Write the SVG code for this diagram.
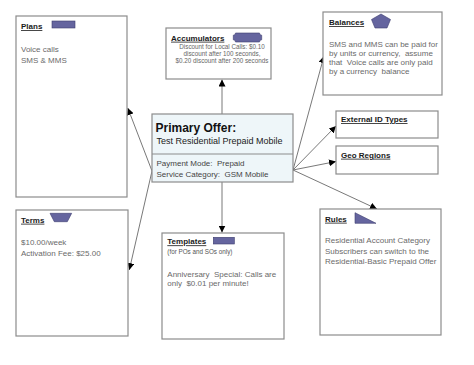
<svg xmlns="http://www.w3.org/2000/svg" width="474" height="365" viewBox="0 0 474 365">
<style>
.box{fill:#fff;stroke:#8c8c8c;stroke-width:1.2}
.ttl{font-family:"Liberation Sans",Arial,sans-serif;font-size:8px;font-weight:bold;fill:#1a1a1a;text-decoration:underline}
.body{font-family:"Liberation Sans",Arial,sans-serif;font-size:8px;fill:#6a6a6a;white-space:pre}
.small{font-family:"Liberation Sans",Arial,sans-serif;font-size:6.3px;fill:#555;white-space:pre}
.icon{fill:#65659f;stroke:#3d3d6e;stroke-width:0.6}
.conn{stroke:#555;stroke-width:0.8;fill:none;marker-end:url(#ah)}
</style>
<defs>
<marker id="ah" viewBox="0 0 10 10" refX="10" refY="5" markerWidth="7" markerHeight="7" markerUnits="userSpaceOnUse" orient="auto">
<path d="M0,0 L10,5 L0,10 z" fill="#000"/>
</marker>
</defs>
<rect width="474" height="365" fill="#fff"/>
<g id="connectors">
<line class="conn" x1="152" y1="171" x2="127.8" y2="108"/>
<line class="conn" x1="152" y1="171" x2="129.3" y2="270"/>
<line class="conn" x1="222" y1="114" x2="222" y2="79.5"/>
<line class="conn" x1="222" y1="182" x2="222" y2="232.5"/>
<line class="conn" x1="293" y1="170" x2="324" y2="56"/>
<line class="conn" x1="293" y1="170" x2="336" y2="126"/>
<line class="conn" x1="293" y1="170" x2="336" y2="161.5"/>
<line class="conn" x1="293" y1="170" x2="377" y2="209"/>
</g>
<g id="plans">
<rect class="box" x="16" y="16" width="111" height="181"/>
<text class="ttl" x="21" y="29">Plans</text>
<rect class="icon" x="52" y="21" width="23" height="7"/>
<text class="body" x="21" y="52">Voice calls</text>
<text class="body" x="21" y="63">SMS &amp; MMS</text>
</g>
<g id="accumulators">
<rect class="box" x="166" y="28" width="105" height="51"/>
<text class="ttl" x="171" y="40.7">Accumulators</text>
<path class="icon" d="M235.5,33 H259.5 A2.2,2.2 0 0 0 261.7,35.2 V39.8 A2.2,2.2 0 0 0 259.5,42 H235.5 A2.2,2.2 0 0 0 233.3,39.8 V35.2 A2.2,2.2 0 0 0 235.5,33 Z"/>
<text class="small" x="222" y="49" text-anchor="middle" style="fill:#666">Discount for Local Calls: $0.10</text>
<text class="small" x="222" y="56" text-anchor="middle" style="fill:#666">discount after 100 seconds,</text>
<text class="small" x="222" y="63" text-anchor="middle" style="fill:#666">$0.20 discount after 200 seconds</text>
</g>
<g id="balances">
<rect class="box" x="323" y="12" width="119" height="83"/>
<text class="ttl" x="329" y="25">Balances</text>
<polygon class="icon" points="381,14 390.5,19.5 387,28 375,28 371.5,19.5"/>
<text class="body" x="329" y="46.7">SMS and MMS can be paid for</text>
<text class="body" x="329" y="55.7">by units or currency,  assume</text>
<text class="body" x="329" y="65">that  Voice calls are only paid</text>
<text class="body" x="329" y="74">by a currency  balance</text>
</g>
<g id="external-id-types">
<rect class="box" x="336" y="111" width="102" height="27"/>
<text class="ttl" x="341" y="122">External ID  Types</text>
</g>
<g id="geo-regions">
<rect class="box" x="336" y="146" width="102" height="28"/>
<text class="ttl" x="341" y="157.7">Geo Regions</text>
</g>
<g id="primary-offer">
<rect x="152" y="114" width="141" height="68" fill="#eef6f9" stroke="#8c8c8c" stroke-width="1.2"/>
<line x1="152" y1="154" x2="293" y2="154" stroke="#8c8c8c" stroke-width="1"/>
<text x="155.5" y="132" font-family="Liberation Sans, Arial, sans-serif" font-size="12" font-weight="bold" fill="#111">Primary Offer:</text>
<text x="156.5" y="144" font-family="Liberation Sans, Arial, sans-serif" font-size="9" fill="#222">Test Residential Prepaid Mobile</text>
<text x="156.5" y="166" font-family="Liberation Sans, Arial, sans-serif" font-size="8" fill="#444" style="white-space:pre">Payment Mode:  Prepaid</text>
<text x="156.5" y="177" font-family="Liberation Sans, Arial, sans-serif" font-size="8" fill="#444" style="white-space:pre">Service Category:  GSM Mobile</text>
</g>
<g id="terms">
<rect class="box" x="16" y="210" width="112" height="126"/>
<text class="ttl" x="21" y="222.7">Terms</text>
<polygon class="icon" points="50,213.3 71.7,213.3 67.3,221.7 54.3,221.7"/>
<text class="body" x="21" y="245">$10.00/week</text>
<text class="body" x="21" y="255.7">Activation Fee: $25.00</text>
</g>
<g id="templates">
<rect class="box" x="162" y="233" width="122" height="106"/>
<text class="ttl" x="167.3" y="244.3">Templates</text>
<rect class="icon" x="213.3" y="237.3" width="21" height="6.7"/>
<text class="small" x="167.3" y="254">(for POs and SOs only)</text>
<text class="body" x="167.3" y="276.7">Anniversary  Special: Calls are</text>
<text class="body" x="167.3" y="286">only  $0.01 per minute!</text>
</g>
<g id="rules">
<rect class="box" x="320" y="209" width="121" height="126"/>
<text class="ttl" x="325" y="221.7">Rules</text>
<polygon class="icon" points="355,212.7 376,223.3 355,223.3"/>
<text class="body" x="325" y="243.3">Residential Account Category</text>
<text class="body" x="325" y="254">Subscribers can switch to the</text>
<text class="body" x="325" y="264">Residential-Basic Prepaid Offer</text>
</g>
</svg>
